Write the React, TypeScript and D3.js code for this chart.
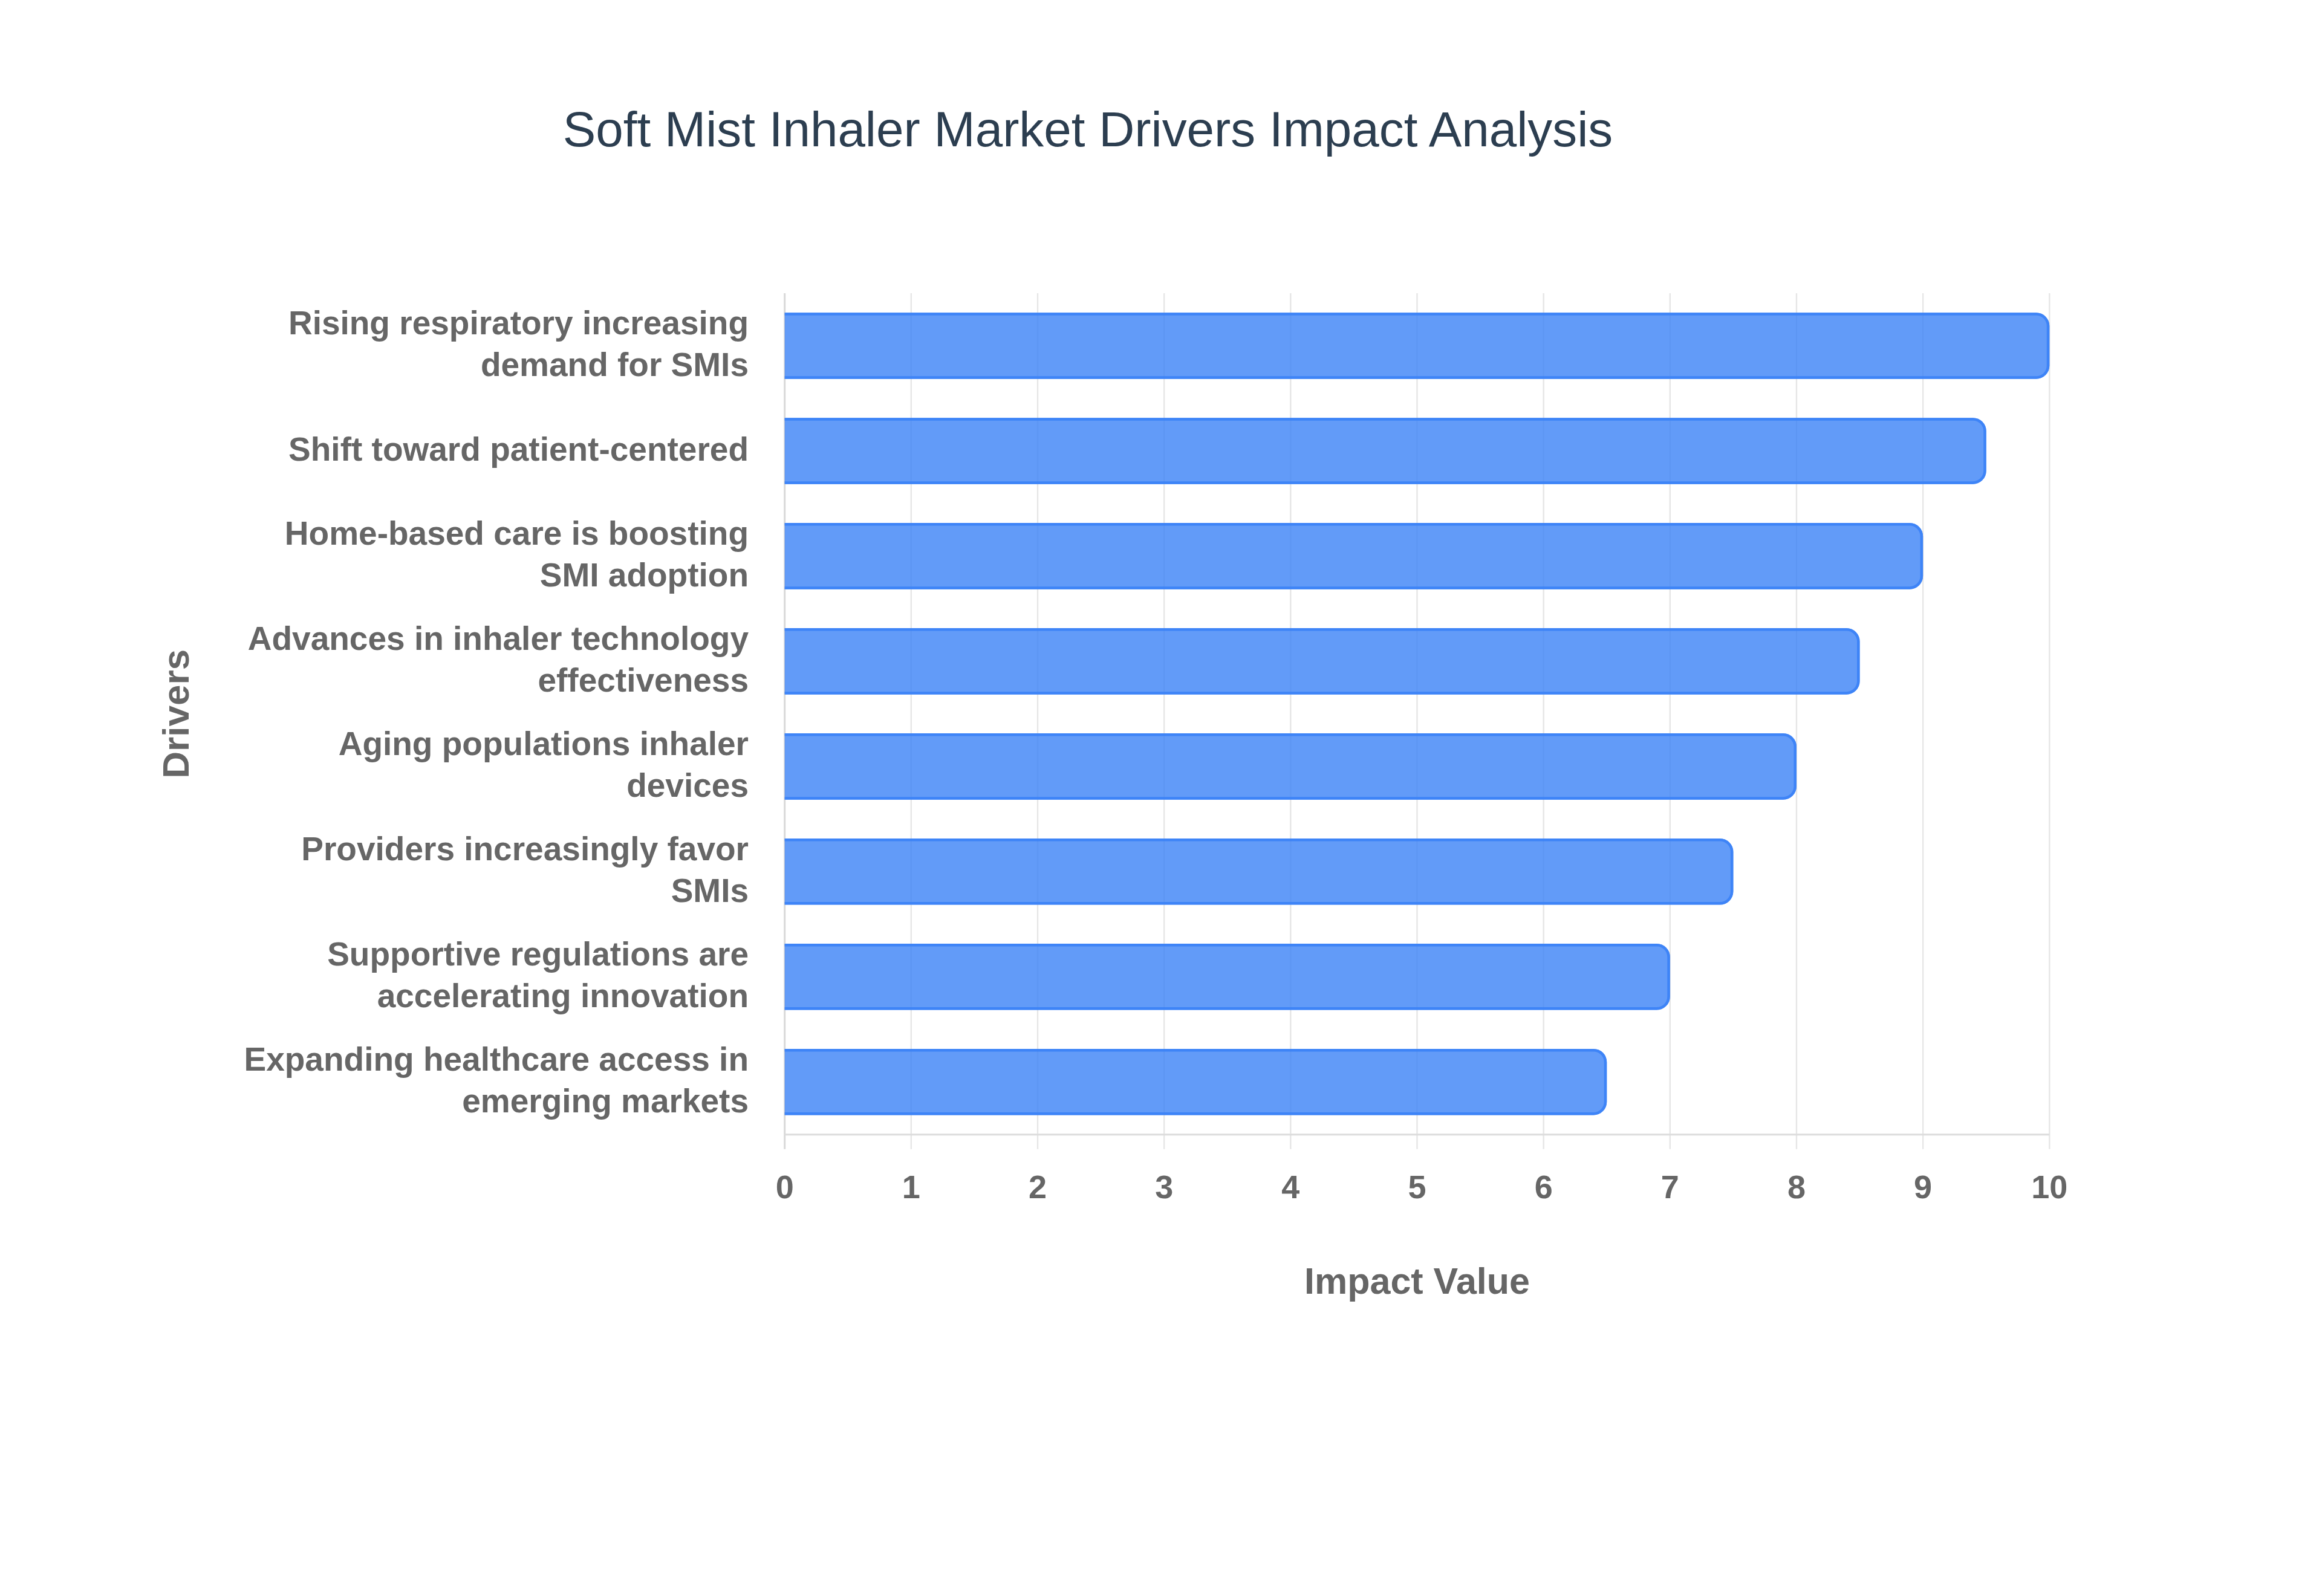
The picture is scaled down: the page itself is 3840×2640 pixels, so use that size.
import React from "react";
import * as d3 from "d3";

const categories = [
  "Rising respiratory increasing demand for SMIs",
  "Shift toward patient-centered",
  "Home-based care is boosting SMI adoption",
  "Advances in inhaler technology effectiveness",
  "Aging populations inhaler devices",
  "Providers increasingly favor SMIs",
  "Supportive regulations are accelerating innovation",
  "Expanding healthcare access in emerging markets",
];

const labelLines = [
  ["Rising respiratory increasing", "demand for SMIs"],
  ["Shift toward patient-centered"],
  ["Home-based care is boosting", "SMI adoption"],
  ["Advances in inhaler technology", "effectiveness"],
  ["Aging populations inhaler", "devices"],
  ["Providers increasingly favor", "SMIs"],
  ["Supportive regulations are", "accelerating innovation"],
  ["Expanding healthcare access in", "emerging markets"],
];

const impactValues = [10, 9.5, 9, 8.5, 8, 7.5, 7, 6.5];

const xTicks = [0, 1, 2, 3, 4, 5, 6, 7, 8, 9, 10];

const W = 3840;
const H = 2640;
const plotLeft = 1297.7;
const plotRight = 3389.3;
const plotTop = 485;
const plotBottom = 1876.7;

const FONT = "'Liberation Sans', Arial, Helvetica, sans-serif";

export default function App() {
  const x = d3.scaleLinear().domain([0, 10]).range([plotLeft, plotRight]);
  const y = d3
    .scaleBand<string>()
    .domain(categories)
    .range([plotTop, plotBottom])
    .paddingInner(0.37)
    .paddingOuter(0.185);

  const r = 22;
  const bw = 4.5;

  const barFill = (v: number, cat: string) => {
    const x0 = x(0);
    const x1 = x(v);
    const t = y(cat)!;
    const b = t + y.bandwidth();
    return `M${x0},${t}H${x1 - r}A${r},${r} 0 0 1 ${x1},${t + r}V${b - r}A${r},${r} 0 0 1 ${x1 - r},${b}H${x0}Z`;
  };
  const barStroke = (v: number, cat: string) => {
    const h = bw / 2;
    const x0 = x(0);
    const x1 = x(v) - h;
    const t = y(cat)! + h;
    const b = y(cat)! + y.bandwidth() - h;
    const rr = r - h;
    return `M${x0},${t}H${x1 - rr}A${rr},${rr} 0 0 1 ${x1},${t + rr}V${b - rr}A${rr},${rr} 0 0 1 ${x1 - rr},${b}H${x0}`;
  };

  const lineGap = 69;

  return (
    <svg
      width={W}
      height={H}
      viewBox={`0 0 ${W} ${H}`}
      style={{ position: "absolute", left: 0, top: 0, background: "#fff" }}
    >
      <rect x={0} y={0} width={W} height={H} fill="#ffffff" />
      <text
        x={1799}
        y={242}
        textAnchor="middle"
        fontFamily={FONT}
        fontSize={81.8}
        fill="#2c3e50"
      >
        Soft Mist Inhaler Market Drivers Impact Analysis
      </text>

      {/* vertical grid lines */}
      {xTicks.map((t) => (
        <line
          key={"g" + t}
          x1={x(t)}
          x2={x(t)}
          y1={plotTop}
          y2={plotBottom + 24}
          stroke={t === 0 ? "#d9d9d9" : "#e6e6e6"}
          strokeWidth={t === 0 ? 3 : 2.4}
        />
      ))}
      {/* bottom border */}
      <line
        x1={plotLeft}
        x2={plotRight}
        y1={plotBottom}
        y2={plotBottom}
        stroke="#dcdcdc"
        strokeWidth={3}
      />

      {/* bars */}
      {categories.map((c, i) => (
        <g key={c}>
          <path d={barFill(impactValues[i], c)} fill="rgba(59,130,246,0.8)" />
          <path
            d={barStroke(impactValues[i], c)}
            fill="none"
            stroke="#3b82f6"
            strokeWidth={bw}
            strokeOpacity={0.9}
          />
        </g>
      ))}

      {/* x tick labels */}
      {xTicks.map((t) => (
        <text
          key={"t" + t}
          x={x(t)}
          y={1982}
          textAnchor="middle"
          fontFamily={FONT}
          fontWeight="bold"
          fontSize={54}
          fill="#666666"
        >
          {t}
        </text>
      ))}

      {/* y labels */}
      {categories.map((c, i) => {
        const lines = labelLines[i];
        const cy = y(c)! + y.bandwidth() / 2;
        return (
          <text
            key={"l" + c}
            textAnchor="end"
            fontFamily={FONT}
            fontWeight="bold"
            fontSize={55}
            fill="#666666"
          >
            {lines.map((ln, j) => (
              <tspan
                key={j}
                x={1238}
                y={cy + (j - (lines.length - 1) / 2) * lineGap + 16}
              >
                {ln}
              </tspan>
            ))}
          </text>
        );
      })}

      {/* axis titles */}
      <text
        x={(plotLeft + plotRight) / 2}
        y={2140}
        textAnchor="middle"
        fontFamily={FONT}
        fontWeight="bold"
        fontSize={61}
        fill="#666666"
      >
        Impact Value
      </text>
      <text
        transform={`translate(312, ${(plotTop + plotBottom) / 2}) rotate(-90)`}
        textAnchor="middle"
        fontFamily={FONT}
        fontWeight="bold"
        fontSize={62}
        fill="#666666"
      >
        Drivers
      </text>
    </svg>
  );
}
